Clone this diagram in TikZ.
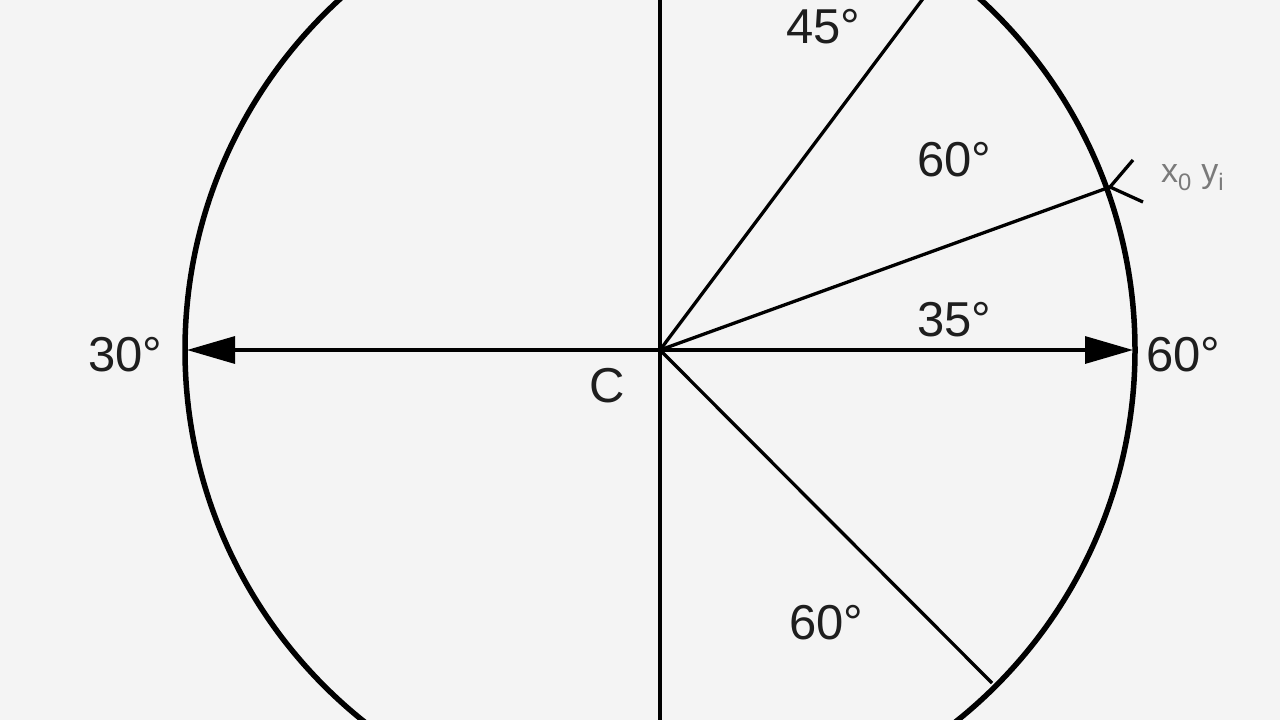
\documentclass[tikz,border=0pt]{standalone}
\usepackage{fontspec}
\setmainfont{Liberation Sans}
\usetikzlibrary{arrows.meta}
\definecolor{bg}{HTML}{F4F4F4}
\definecolor{ink}{HTML}{1E1E1E}
\definecolor{graytxt}{HTML}{7A7A7A}
\begin{document}
\begin{tikzpicture}[x=1pt,y=-1pt,
  thin line/.style={draw=black,line width=3.3pt},
  rim/.style={draw=black,line width=5.5pt},
  tipped/.style={thin line,-{Triangle[length=48pt,width=27pt]}},
  lbl/.style={font=\fontsize{49}{49}\selectfont,text=ink,inner sep=0pt,anchor=base west},
  small lbl/.style={font=\fontsize{34}{34}\selectfont,text=graytxt,inner sep=0pt,anchor=base west}]
\fill[bg] (0,0) rectangle (1280,720);
\useasboundingbox (0,0) rectangle (1280,720);
\coordinate (C) at (660,350);
\coordinate (T) at (660,-5);
\coordinate (B) at (660,725);
\coordinate (L) at (187,350);
\coordinate (R) at (1133,350);
\coordinate (P1) at (944.7,-30.3);
\coordinate (P2) at (1110,187);
\coordinate (P3) at (992,683);
\coordinate (K1) at (1133,160);
\coordinate (K2) at (1143,202);
% circle
\draw[rim] (C) circle[radius=475];
% axes
\draw[thin line] (T) -- (B);
\draw[tipped] (C) -- (L);
\draw[tipped] (C) -- (R);
% radial lines
\draw[thin line] (C) -- (P1);
\draw[thin line] (C) -- (P2);
\draw[thin line] (C) -- (P3);
% chevron mark
\draw[thin line,line join=miter] (K1) -- (P2) -- (K2);
% labels
\node[lbl] (a45) at (786,43) {45°};
\node[lbl] (a60t) at (917,176) {60°};
\node[lbl] (a35) at (917,336) {35°};
\node[lbl] (a60r) at (1146,371) {60°};
\node[lbl] (a30) at (88,371) {30°};
\node[lbl] (c) at (589,402) {C};
\node[lbl] (a60b) at (789,639) {60°};
\node[small lbl] (xy) at (1161,182) {x\textsubscript{0} y\textsubscript{i}};
\end{tikzpicture}
\end{document}
